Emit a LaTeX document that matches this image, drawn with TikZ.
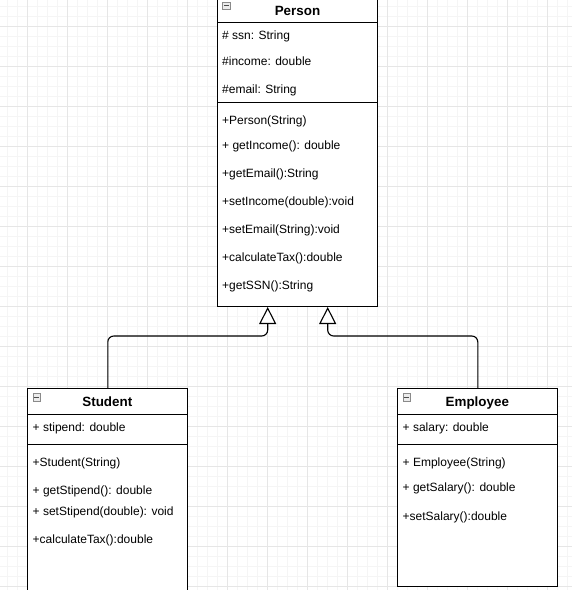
\documentclass[tikz,border=0pt]{standalone}
\usepackage{fontspec}
\setmainfont{Liberation Sans}
\usetikzlibrary{arrows.meta,calc}
\definecolor{gridminor}{HTML}{F5F5F5}
\definecolor{gridmajor}{HTML}{E6E6E6}
\definecolor{icongray}{HTML}{8A8A8A}
\tikzset{
  umlbox/.style={draw=black, fill=white, line width=1pt, minimum width=160pt, inner sep=0pt, anchor=north west},
  sepline/.style={draw=black, line width=1pt},
  member/.style={anchor=base west, inner sep=0pt, font=\fontsize{12}{14}\selectfont},
  title/.style={anchor=base, inner sep=0pt, font=\fontsize{13.4}{15}\selectfont\bfseries},
  icon/.style={draw=icongray, fill=black!8, line width=0.6pt, minimum width=7.5pt, minimum height=7.5pt, inner sep=0pt, anchor=north west},
  conn/.style={draw=black, line width=1.1pt, rounded corners=6pt, -{Triangle[open, length=17pt, width=17pt, fill=white]}}
}
\begin{document}
\begin{tikzpicture}[x=1pt, y=-1pt]
\useasboundingbox (0,0) rectangle (572,590);
% grid
\foreach \k in {0,...,57} {
  \draw[gridminor, line width=0.8pt] (7.3+10*\k,0) -- (7.3+10*\k,590);
  \draw[gridminor, line width=0.8pt] (0,6.3+10*\k) -- (572,6.3+10*\k);
}
\foreach \k in {0,...,14} {
  \draw[gridmajor, line width=0.9pt] (27.3+40*\k,0) -- (27.3+40*\k,590);
  \draw[gridmajor, line width=0.9pt] (0,26.3+40*\k) -- (572,26.3+40*\k);
}
% ---------- Person ----------
\node[umlbox, minimum height=309.5pt] (person) at (217,-3.5) {};
\coordinate (pt) at (0,22.5);
\coordinate (ps) at (0,102);
\draw[sepline] (person.west |- pt) -- (person.east |- pt);
\draw[sepline] (person.west |- ps) -- (person.east |- ps);
\node[icon] (picon) at (222.3,1.5) {};
\draw[black!70, line width=0.8pt] ($(picon.west)+(1.6,0)$) -- ($(picon.east)+(-1.6,0)$);
\node[title] (ptitle) at (297.5,15) {Person};
\node[member] (pa1) at (222,39.3) {\# ssn: String};
\node[member] (pa2) at (222,65.7) {\#income: double};
\node[member] (pa3) at (222,93.3) {\#email: String};
\node[member] (pm1) at (222,124) {+Person(String)};
\node[member] (pm2) at (222,149.7) {+ getIncome(): double};
\node[member] (pm3) at (222,177.3) {+getEmail():String};
\node[member] (pm4) at (222,205) {+setIncome(double):void};
\node[member] (pm5) at (222,233.3) {+setEmail(String):void};
\node[member] (pm6) at (222,261.3) {+calculateTax():double};
\node[member] (pm7) at (222,289) {+getSSN():String};
% ---------- Student ----------
\node[umlbox, minimum height=215pt] (student) at (27.3,388) {};
\coordinate (st) at (0,414.3);
\coordinate (ss) at (0,444.3);
\draw[sepline] (student.west |- st) -- (student.east |- st);
\draw[sepline] (student.west |- ss) -- (student.east |- ss);
\node[icon] (sicon) at (32.7,393.3) {};
\draw[black!70, line width=0.8pt] ($(sicon.west)+(1.6,0)$) -- ($(sicon.east)+(-1.6,0)$);
\node[title] (stitle) at (107.3,406.8) {Student};
\node[member] (sa1) at (32.5,431.7) {+ stipend: double};
\node[member] (sm1) at (32.5,466.3) {+Student(String)};
\node[member] (sm2) at (32.5,494) {+ getStipend(): double};
\node[member] (sm3) at (32.5,515.3) {+ setStipend(double): void};
\node[member] (sm4) at (32.5,543.3) {+calculateTax():double};
% ---------- Employee ----------
\node[umlbox, minimum height=197.7pt] (employee) at (397.3,388) {};
\draw[sepline] (employee.west |- st) -- (employee.east |- st);
\draw[sepline] (employee.west |- ss) -- (employee.east |- ss);
\node[icon] (eicon) at (402.7,393.3) {};
\draw[black!70, line width=0.8pt] ($(eicon.west)+(1.6,0)$) -- ($(eicon.east)+(-1.6,0)$);
\node[title] (etitle) at (477.3,406.8) {Employee};
\node[member] (ea1) at (402.5,431.7) {+ salary: double};
\node[member] (em1) at (402.5,466.3) {+ Employee(String)};
\node[member] (em2) at (402.5,491.7) {+ getSalary(): double};
\node[member] (em3) at (402.5,520) {+setSalary():double};
% ---------- generalisations ----------
\coordinate (bend) at (0,336);
\coordinate (tipS) at ($(person.south)+(-29.8,0)$);
\coordinate (tipE) at ($(person.south)+(30.2,0)$);
\draw[conn] (student.north) -- (student.north |- bend) -- (tipS |- bend) -- (tipS);
\draw[conn] (employee.north) -- (employee.north |- bend) -- (tipE |- bend) -- (tipE);
\end{tikzpicture}
\end{document}
